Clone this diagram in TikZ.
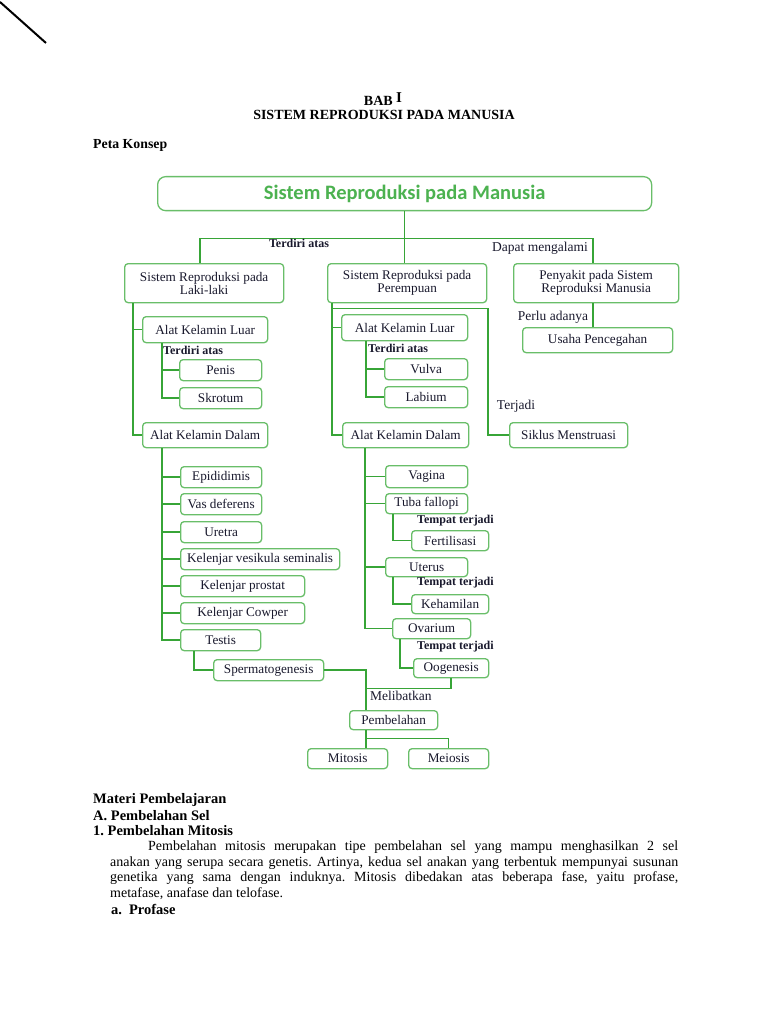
\documentclass[tikz,border=0pt]{standalone}
\usepackage{fontspec}
\setmainfont{Liberation Serif}
\newfontfamily\carl{Carlito}
\definecolor{boxg}{RGB}{105,190,105}
\definecolor{lineg}{RGB}{55,165,55}
\definecolor{titleg}{RGB}{76,178,80}
\definecolor{txt}{RGB}{25,25,45}
\newcommand\mkbox[6]{\node[bx, minimum width={(#4-#2)*1pt}, minimum height={(#5-#3)*1pt}] (#1) at (#2,#3) {#6};}
\frenchspacing
\begin{document}
\begin{tikzpicture}[x=1pt,y=-1pt,
  bx/.style={draw=boxg, line width=1.3pt, rounded corners=3.5pt, inner sep=0pt, font=\fontsize{13.2}{13}\selectfont, text=txt, align=center, anchor=north west},
  ln/.style={draw=lineg, line width=1.4pt},
  lbl/.style={font=\fontsize{13.5}{14}\selectfont, text=txt, inner sep=0pt},
  lblb/.style={font=\bfseries\fontsize{12}{13}\selectfont, text=txt, inner sep=0pt},
  body/.style={font=\fontsize{14}{15}\selectfont, inner sep=0pt, anchor=west},
  bodyb/.style={font=\bfseries\fontsize{14.5}{15}\selectfont, inner sep=0pt, anchor=west}]
\fill[white] (0,0) rectangle (768,1024);
\useasboundingbox (0,0) rectangle (768,1024);
\draw[line width=2pt, black] (0,2) -- (46,43);
\node[font=\bfseries\fontsize{14}{14}\selectfont] (bab) at (383,99) {BAB \raisebox{3pt}{\fontsize{15}{15}\selectfont I}};
\node[font=\bfseries\fontsize{14}{14}\selectfont] (judul) at (384,115) {SISTEM REPRODUKSI PADA MANUSIA};
\node[bodyb, font=\bfseries\fontsize{13.8}{15}\selectfont] (peta) at (93,145) {Peta Konsep};
% boxes
\node[bx, rounded corners=8pt, minimum width=494pt, minimum height=34pt, font=\carl\bfseries\fontsize{20.5}{22}\selectfont, text=titleg] (Main) at (157,176) {Sistem Reproduksi pada Manusia};
\mkbox{L}{124}{263}{283}{302}{Sistem Reproduksi pada\\Laki-laki}
\mkbox{M}{327}{263}{486}{302}{Sistem Reproduksi pada\\Perempuan}
\mkbox{R}{513}{263}{678}{302}{Penyakit pada Sistem\\Reproduksi Manusia}
\mkbox{Us}{522}{327}{672}{352}{Usaha Pencegahan}
\mkbox{ALuar}{142}{316}{267}{342}{Alat Kelamin Luar}
\mkbox{Penis}{179}{359}{261}{380}{Penis}
\mkbox{Skrotum}{179}{387}{261}{408}{Skrotum}
\mkbox{ADalam}{142}{422}{267}{447}{Alat Kelamin Dalam}
\mkbox{Epi}{180}{466}{261}{487}{Epididimis}
\mkbox{Vas}{180}{493}{261}{514}{Vas deferens}
\mkbox{Ure}{180}{521}{261}{542}{Uretra}
\mkbox{Ves}{180}{548}{339}{569}{Kelenjar vesikula seminalis}
\mkbox{Pros}{180}{575}{304}{596}{Kelenjar prostat}
\mkbox{Cow}{180}{602}{304}{623}{Kelenjar Cowper}
\mkbox{Tes}{180}{629}{260}{650}{Testis}
\mkbox{Sperm}{213}{659}{323}{680}{Spermatogenesis}
\mkbox{FLuar}{341}{314}{467}{340}{Alat Kelamin Luar}
\mkbox{Vulva}{384}{358}{467}{379}{Vulva}
\mkbox{Lab}{384}{386}{467}{407}{Labium}
\mkbox{FDalam}{342}{422}{468}{447}{Alat Kelamin Dalam}
\mkbox{Sik}{509}{422}{627}{447}{Siklus Menstruasi}
\mkbox{Vag}{385}{465}{467}{487}{Vagina}
\mkbox{Tuba}{385}{493}{467}{513}{Tuba fallopi}
\mkbox{Fert}{411}{530}{488}{550}{Fertilisasi}
\mkbox{Ute}{385}{557}{467}{576}{Uterus}
\mkbox{Keh}{411}{594}{488}{613}{Kehamilan}
\mkbox{Ov}{392}{618}{470}{638}{Ovarium}
\mkbox{Oog}{413}{658}{488}{677}{Oogenesis}
\mkbox{Pemb}{349}{710}{437}{729}{Pembelahan}
\mkbox{Mit}{307}{748}{387}{768}{Mitosis}
\mkbox{Mei}{408}{748}{488}{768}{Meiosis}
% connectors
\draw[ln] (Main.south) -- ++(0,27) coordinate (hub);
\draw[ln] ([xshift=-4pt]L.north) |- (hub) -| ([xshift=-3pt]R.north);
\draw[ln] (hub) -- (hub |- M.north);
\draw[ln] ([xshift=-3pt]R.south) -- ([xshift=-3pt]R.south |- Us.north);
\draw[ln] ([xshift=9pt]L.south west) |- (ALuar.west);
\draw[ln] ([xshift=9pt]L.south west) |- (ADalam.west);
\draw[ln] ([xshift=20pt]ALuar.south west) |- (Penis.west);
\draw[ln] ([xshift=20pt]ALuar.south west) |- (Skrotum.west);
\foreach \n in {Epi,Vas,Ure,Ves,Pros,Cow,Tes} \draw[ln] ([xshift=20pt]ADalam.south west) |- (\n.west);
\draw[ln] ([xshift=14pt]Tes.south west) |- (Sperm.west);
\draw[ln] (Sperm.east) -| ([xshift=17pt]Pemb.north west);
\draw[ln] (Oog.south) -- ++(0,10) -| ([xshift=17pt]Pemb.north west);
\draw[ln] ([xshift=17pt]Pemb.south west) -- ([xshift=17pt]Pemb.south west |- Mit.north);
\draw[ln] ([xshift=17pt]Pemb.south west) ++(0,8) -| (Mei.north);
\draw[ln] ([xshift=5pt]M.south west) |- (FLuar.west);
\draw[ln] ([xshift=5pt]M.south west) |- (FDalam.west);
\draw[ln] ([xshift=5pt]M.south west) ++(0,5) -| ([xshift=-21pt]Sik.west) -- (Sik.west);
\draw[ln] ([xshift=25pt]FLuar.south west) |- (Vulva.west);
\draw[ln] ([xshift=25pt]FLuar.south west) |- (Lab.west);
\foreach \n in {Vag,Tuba,Ute,Ov} \draw[ln] ([xshift=23pt]FDalam.south west) |- (\n.west);
\draw[ln] ([xshift=8pt]Tuba.south west) |- (Fert.west);
\draw[ln] ([xshift=8pt]Ute.south west) |- (Keh.west);
\draw[ln] ([xshift=8pt]Ov.south west) |- (Oog.west);
% labels
\node[lblb] (t1) at (299,243) {Terdiri atas};
\node[lbl] (t2) at (540,248) {Dapat mengalami};
\node[lbl] (t3) at (553,317) {Perlu adanya};
\node[lblb,anchor=west] (t4) at (163,350) {Terdiri atas};
\node[lblb,anchor=west] (t5) at (368,348) {Terdiri atas};
\node[lbl] (t6) at (516,406) {Terjadi};
\node[lblb,anchor=west] (t7) at (417,521) {Tempat terjadi};
\node[lblb,anchor=west] (t8) at (417,583) {Tempat terjadi};
\node[lblb,anchor=west] (t9) at (417,647) {Tempat terjadi};
\node[lbl,anchor=west] (t10) at (370,696) {Melibatkan};
% body text
\node[bodyb] (h1) at (93,800) {Materi Pembelajaran};
\node[bodyb] (h2) at (93,816) {A. Pembelahan Sel};
\node[bodyb] (h3) at (93,831) {1. Pembelahan Mitosis};
\node[body] (p1) at (148,847) {\makebox[530pt][s]{Pembelahan mitosis merupakan tipe pembelahan sel yang mampu menghasilkan 2 sel}};
\node[body] (p2) at (110,863) {\makebox[568pt][s]{anakan yang serupa secara genetis. Artinya, kedua sel anakan yang terbentuk mempunyai susunan}};
\node[body] (p3) at (110,878) {\makebox[568pt][s]{genetika yang sama dengan induknya. Mitosis dibedakan atas beberapa fase, yaitu profase,}};
\node[body] (p4) at (110,894) {metafase, anafase dan telofase.};
\node[bodyb] (h4) at (111,909) {a.\hspace{7pt}Profase};
\end{tikzpicture}
\end{document}
